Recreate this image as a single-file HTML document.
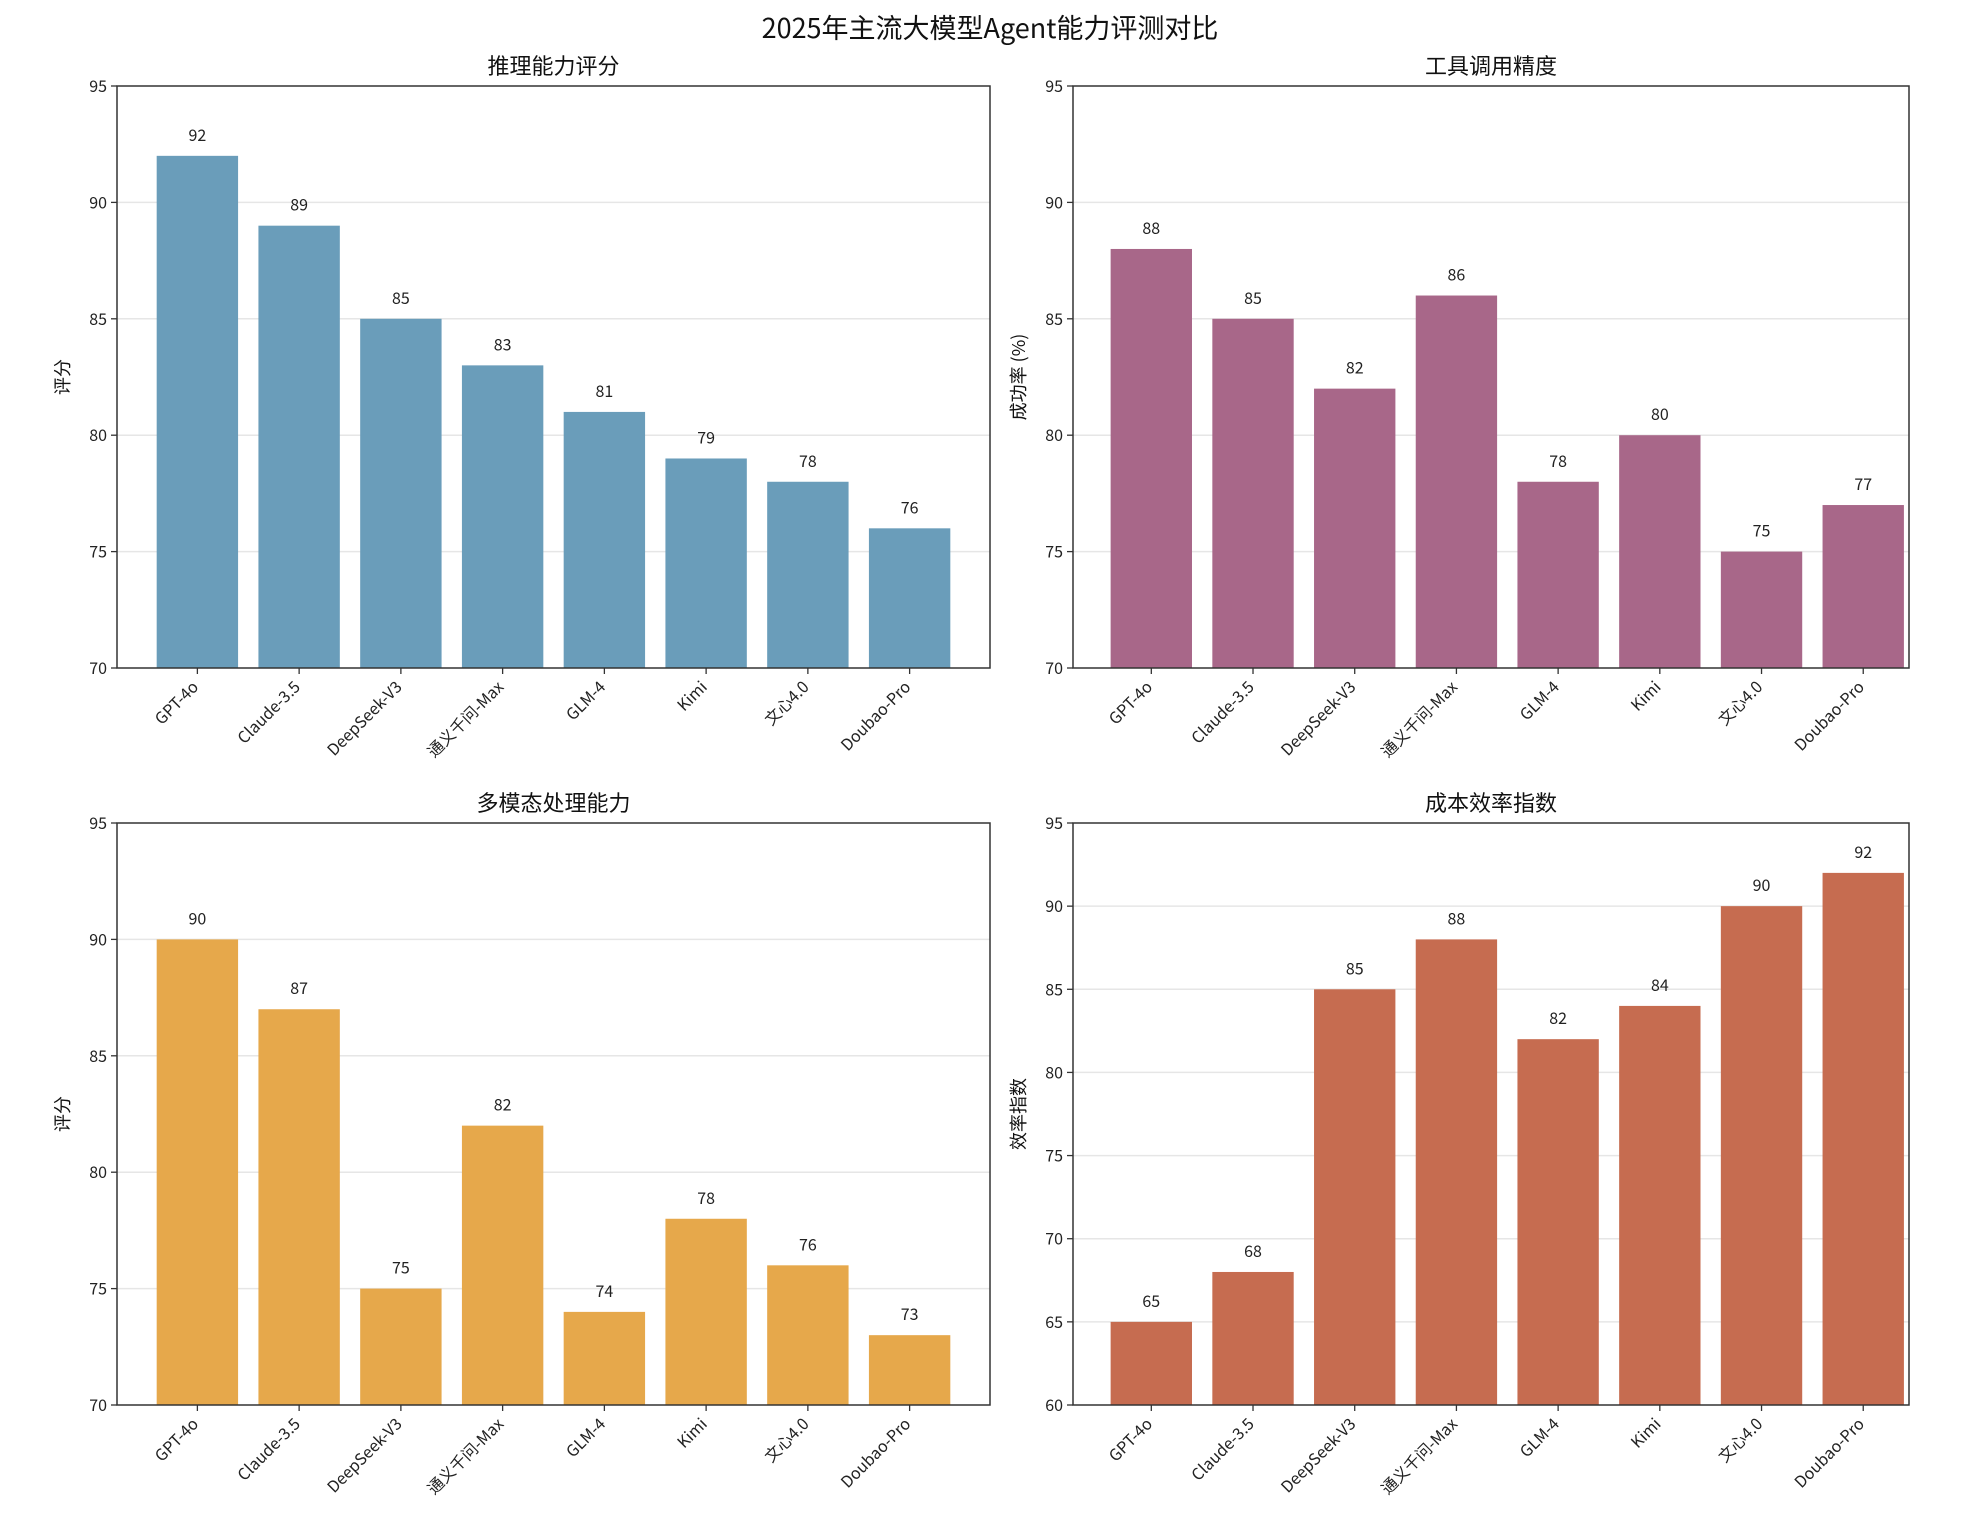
<!DOCTYPE html>
<html><head><meta charset="utf-8">
<style>
html,body{margin:0;padding:0;background:#fff;}
svg{display:block;font-family:"Noto Sans CJK SC","Liberation Sans",sans-serif;}
</style></head>
<body>
<svg id="fig" width="1980" height="1530" viewBox="0 0 1980 1530">
<rect width="1980" height="1530" fill="#fff"/>
<text x="990" y="38" text-anchor="middle" font-size="27" fill="#111">2025年主流大模型Agent能力评测对比</text>
</svg>
<script>
const categories = ["GPT-4o","Claude-3.5","DeepSeek-V3","通义千问-Max","GLM-4","Kimi","文心4.0","Doubao-Pro"];
const reasoningValues = [92,89,85,83,81,79,78,76];
const toolValues = [88,85,82,86,78,80,75,77];
const multimodalValues = [90,87,75,82,74,78,76,73];
const costValues = [65,68,85,88,82,84,90,92];
const ticks70 = [70,75,80,85,90,95];
const ticks60 = [60,65,70,75,80,85,90,95];

const NS = "http://www.w3.org/2000/svg";
const svg = document.getElementById("fig");
function mk(tag, attrs, parent){
  const e = document.createElementNS(NS, tag);
  for (const k in attrs) e.setAttribute(k, attrs[k]);
  (parent||svg).appendChild(e);
  return e;
}
const panels = [
  {key:"reasoning", title:"推理能力评分", ylabel:"评分", vals:reasoningValues, color:"#6a9dba", ticks:ticks70, ymin:70, ymax:95, x0:117, x1:990, y0:86, y1:668, xl:-0.79, xr:7.79},
  {key:"tool", title:"工具调用精度", ylabel:"成功率 (%)", vals:toolValues, color:"#a86789", ticks:ticks70, ymin:70, ymax:95, x0:1073, x1:1909, y0:86, y1:668, xl:-0.77, xr:7.45},
  {key:"multimodal", title:"多模态处理能力", ylabel:"评分", vals:multimodalValues, color:"#e6a84b", ticks:ticks70, ymin:70, ymax:95, x0:117, x1:990, y0:823, y1:1405, xl:-0.79, xr:7.79},
  {key:"cost", title:"成本效率指数", ylabel:"效率指数", vals:costValues, color:"#c66c50", ticks:ticks60, ymin:60, ymax:95, x0:1073, x1:1909, y0:823, y1:1405, xl:-0.77, xr:7.45}
];
panels.forEach(p => {
  const g = mk("g", {});
  
  
  const xl = p.xl, xr = p.xr;
  const xs = v => p.x0 + (v - xl) / (xr - xl) * (p.x1 - p.x0);
  const ys = v => p.y1 - (v - p.ymin) / (p.ymax - p.ymin) * (p.y1 - p.y0);
  p.ticks.forEach(t => {
    if (t !== p.ymin && t !== p.ymax) {
      const gl = mk("line", {x1:p.x0, x2:p.x1, y1:ys(t), y2:ys(t), stroke:"#e6e6e6", "stroke-width":1.5}, g);
      
      
    }
    const tk = mk("line", {x1:p.x0-6, x2:p.x0, y1:ys(t), y2:ys(t), stroke:"#333", "stroke-width":1.3}, g);
    
    
    const tl = mk("text", {x:p.x0-10, y:ys(t)+6, "text-anchor":"end", "font-size":16, fill:"#222"}, g);
    tl.textContent = t;
    
    
  });
  p.vals.forEach((v, i) => {
    const b = mk("rect", {x:xs(i-0.4), y:ys(v), width:xs(i+0.4)-xs(i-0.4), height:ys(p.ymin)-ys(v), fill:p.color}, g);
    
    
    const vl = mk("text", {x:xs(i), y:ys(v)-15, "text-anchor":"middle", "font-size":16, fill:"#222"}, g);
    vl.textContent = v;
    
    
  });
  categories.forEach((c, i) => {
    const tk = mk("line", {x1:xs(i), x2:xs(i), y1:p.y1, y2:p.y1+6, stroke:"#333", "stroke-width":1.3}, g);
    
    
    const ax = xs(i)+2, ay = p.y1+20;
    const tl = mk("text", {x:ax, y:ay, "text-anchor":"end", "font-size":16, fill:"#222", transform:`rotate(-45 ${ax} ${ay})`}, g);
    tl.textContent = c;
    
    
  });
  const fr = mk("rect", {x:p.x0, y:p.y0, width:p.x1-p.x0, height:p.y1-p.y0, fill:"none", stroke:"#333", "stroke-width":1.5}, g);
  
  
  const t = mk("text", {x:(p.x0+p.x1)/2, y:p.y0-12, "text-anchor":"middle", "font-size":22, fill:"#111"}, g);
  t.textContent = p.title;
  
  
  const cy = (p.y0+p.y1)/2, cx = p.x0-48;
  const yl = mk("text", {x:cx, y:cy, "text-anchor":"middle", "font-size":18, fill:"#111", transform:`rotate(-90 ${cx} ${cy})`}, g);
  yl.textContent = p.ylabel;
  
  
});
</script>
</body></html>
